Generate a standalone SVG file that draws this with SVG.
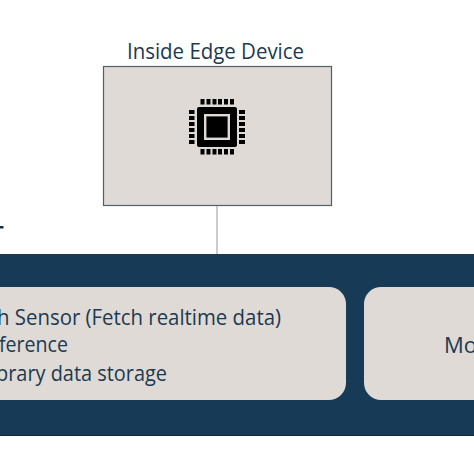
<svg xmlns="http://www.w3.org/2000/svg" width="474" height="474" viewBox="0 0 474 474">
<style>
text{font-family:"Open Sans","Noto Sans","Liberation Sans",sans-serif;fill:#1c3a50}
.b{font-size:22px}
.box{fill:#dfdad6}
.pin{fill:#000}
</style>
<rect width="474" height="474" fill="#fff"/>
<g id="connectors"><line x1="217" y1="205" x2="217" y2="254" stroke="#9a9a9a" stroke-width="1"/></g>
<rect x="0" y="226" width="3.5" height="2.500" fill="#1c2f3e"/>
<g id="edge-device">
<text x="127" y="59" font-size="21.500" textLength="177" lengthAdjust="spacingAndGlyphs">Inside Edge Device</text>
<rect class="box" x="103.500" y="66.500" width="228" height="139" stroke="#4f5f6b" stroke-width="1.200"/>
<g id="chip-icon">
<rect x="197" y="107" width="40" height="40" rx="2" fill="#000"/>
<rect x="205.200" y="115.200" width="23.600" height="23.600" fill="none" stroke="#dfdad6" stroke-width="2.400"/>
<path class="pin" d="M200.500 99h4v5.500h-4zM206.500 99h4v5.500h-4zM212.500 99h4v5.500h-4zM218 99h4v5.500h-4zM224 99h4v5.500h-4zM230 99h4v5.500h-4zM200.500 149h4v5.500h-4zM206.500 149h4v5.500h-4zM212.500 149h4v5.500h-4zM218 149h4v5.500h-4zM224 149h4v5.500h-4zM230 149h4v5.500h-4zM189 110h5.500v4h-5.500zM189 116h5.500v4h-5.500zM189 122h5.500v4h-5.500zM189 128h5.500v4h-5.500zM189 134h5.500v4h-5.500zM189 140h5.500v4h-5.500zM239 110h6v4h-6zM239 116h6v4h-6zM239 122h6v4h-6zM239 128h6v4h-6zM239 134h6v4h-6zM239 140h6v4h-6z"/>
</g>
</g>
<g id="band">
<rect x="-2" y="254" width="478" height="182" fill="#173a56"/>
<line x1="0" y1="435.500" x2="474" y2="435.500" stroke="#0f2a3e" stroke-width="1"/>
</g>
<g id="sensor-node">
<rect class="box" x="-60" y="287" width="406" height="113" rx="17"/>
<text class="b" x="-3" y="325" textLength="284" lengthAdjust="spacingAndGlyphs">h Sensor (Fetch realtime data)</text>
<text class="b" x="-1" y="352" textLength="69" lengthAdjust="spacingAndGlyphs">ference</text>
<text class="b" x="-4" y="381" textLength="171" lengthAdjust="spacingAndGlyphs">brary data storage</text>
</g>
<g id="model-node">
<rect class="box" x="364" y="287" width="170" height="113" rx="17"/>
<text class="b" x="444" y="353">Mo</text>
</g>
</svg>
